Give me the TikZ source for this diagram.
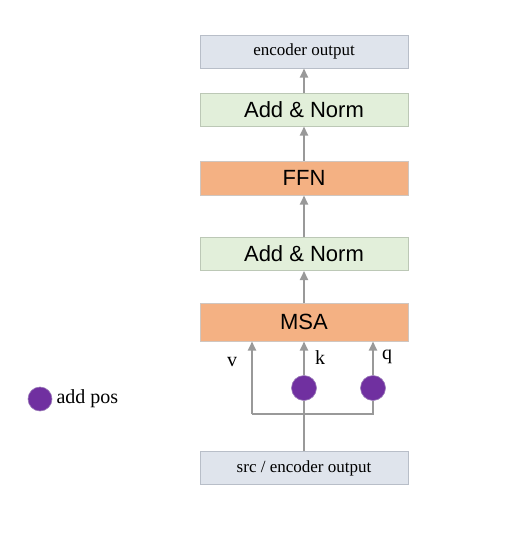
\documentclass[tikz,border=0pt]{standalone}
\usepackage{fontspec}
\setmainfont{Liberation Serif}
\setsansfont{Liberation Sans}
\usetikzlibrary{arrows.meta, positioning}
\definecolor{encgrey}{HTML}{DFE4EC}
\definecolor{encgreyline}{HTML}{B8BEC8}
\definecolor{normgreen}{HTML}{E2EFDA}
\definecolor{normgreenline}{HTML}{BCC8B6}
\definecolor{ffnorange}{HTML}{F4B183}
\definecolor{ffnorangeline}{HTML}{CFC6C0}
\definecolor{pospurple}{HTML}{7030A0}
\definecolor{pospurpleline}{HTML}{9A7AB8}
\definecolor{arrgrey}{HTML}{999999}

\begin{document}
\begin{tikzpicture}[
  x=1pt, y=-1pt,
  blk/.style={draw, line width=1pt, minimum width=208pt, minimum height=33pt, inner sep=0pt, align=center},
  encblk/.style={blk, fill=encgrey, draw=encgreyline, font=\fontsize{17}{20}\selectfont},
  normblk/.style={blk, fill=normgreen, draw=normgreenline, font=\sffamily\fontsize{22}{26}\selectfont},
  ffnblk/.style={blk, fill=ffnorange, draw=ffnorangeline, font=\sffamily\fontsize{22}{26}\selectfont},
  posdot/.style={circle, fill=pospurple, draw=pospurpleline, line width=0.6pt, minimum size=25pt, inner sep=0pt},
  lbl/.style={font=\fontsize{20}{23}\selectfont, inner sep=0pt},
  arr/.style={-{Triangle[length=9pt,width=8pt]}, line width=2pt, arrgrey},
  ln/.style={line width=2pt, arrgrey}
]
\useasboundingbox (0,0) rectangle (529,549);

\node[encblk] (src) at (304,468) {src / encoder output};
\node[ffnblk, minimum height=38pt] (msa) at (304,322) {MSA};
\node[normblk] (norm1) at (304,254) {Add \& Norm};
\node[ffnblk, minimum height=34pt] (ffn) at (304,178) {FFN};
\node[normblk] (norm2) at (304,109.5) {Add \& Norm};
\node[encblk] (out) at (304,51.5) {encoder output};

\node[posdot] (posk) at (304,388) {};
\node[posdot] (posq) at (373,388) {};
\coordinate (jv) at (252,414);
\coordinate (jk) at (304,414);
\coordinate (jq) at (373,414);

\node[lbl] (v) at (232,362) {v};
\node[lbl] (k) at (320,358) {k};
\node[lbl] (q) at (387,357) {q};

% legend
\node[posdot, minimum size=24pt] (legpos) at (40,399) {};
\node[lbl, anchor=west] (legtxt) at ([xshift=4pt]legpos.east) {add pos};

% inputs
\draw[ln] (src.north) -- (posk.south);
\draw[ln] (jv) -- (jq) -- (posq.south);
\draw[arr] (jv) -- (jv |- msa.south);
\draw[arr] (posk) -- (posk |- msa.south);
\draw[arr] (posq) -- (posq |- msa.south);

% stack
\draw[arr] (msa) -- (norm1);
\draw[arr] (norm1) -- (ffn);
\draw[arr] (ffn) -- (norm2);
\draw[arr] (norm2) -- (out);
\end{tikzpicture}
\end{document}
